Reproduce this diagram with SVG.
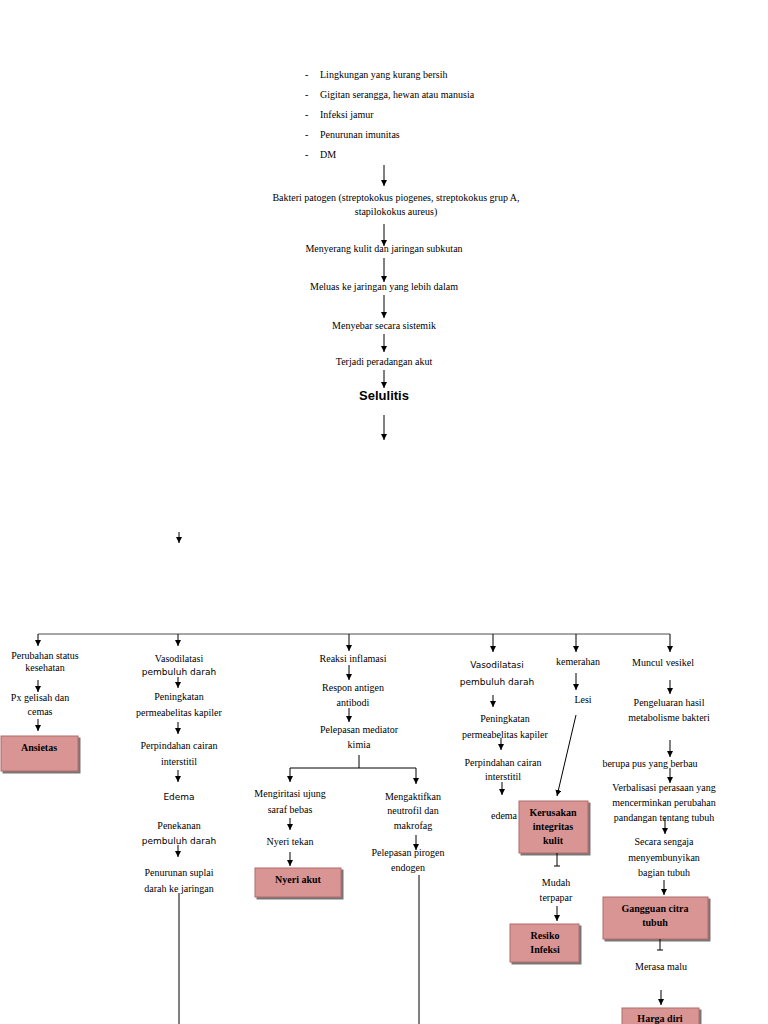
<svg xmlns="http://www.w3.org/2000/svg" width="768" height="1024" viewBox="0 0 768 1024">
<defs>
<marker id="a" markerWidth="7" markerHeight="6" refX="6" refY="3" orient="auto" markerUnits="userSpaceOnUse"><path d="M0,0 L6,3 L0,6 Z" fill="#000"/></marker>
<filter id="sh"><feDropShadow dx="2" dy="2" stdDeviation="0.6" flood-color="#555" flood-opacity="0.8"/></filter>
</defs>
<style>
text{font-family:"Liberation Serif",serif;font-size:10px;fill:#000;text-anchor:middle}
.s{font-family:"DejaVu Sans","Liberation Sans",sans-serif;font-size:9px}
.l{text-anchor:start}
.b{font-weight:bold}
.t{font-family:"Liberation Sans",sans-serif;font-size:13px;font-weight:bold}
.ar{stroke:#000;stroke-width:1;fill:none;marker-end:url(#a)}
.ln{stroke:#000;stroke-width:1;fill:none}
.g{stroke:#888;stroke-width:1.5;fill:none}
.box{fill:#d99594;stroke:#b06b6a;stroke-width:1;filter:url(#sh)}
</style>
<rect width="768" height="1024" fill="#fff"/>
<g id="causes">
<text class="l" x="305" y="78">-</text><text class="l" x="320" y="78">Lingkungan yang kurang bersih</text>
<text class="l" x="305" y="98">-</text><text class="l" x="320" y="98">Gigitan serangga, hewan atau manusia</text>
<text class="l" x="305" y="118">-</text><text class="l" x="320" y="118">Infeksi jamur</text>
<text class="l" x="305" y="138">-</text><text class="l" x="320" y="138">Penurunan imunitas</text>
<text class="l" x="305" y="158">-</text><text class="l" x="320" y="158">DM</text>
</g>
<g id="chain">
<text x="396" y="201">Bakteri patogen (streptokokus piogenes, streptokokus grup A,</text>
<text x="396" y="215">stapilokokus aureus)</text>
<text x="384" y="252">Menyerang kulit dan jaringan subkutan</text>
<text x="384" y="290">Meluas ke jaringan yang lebih dalam</text>
<text x="384" y="329">Menyebar secara sistemik</text>
<text x="384" y="365">Terjadi peradangan akut</text>
<text class="t" x="384" y="400">Selulitis</text>
</g>
<g id="col1">
<text x="45" y="659">Perubahan status</text><text x="45" y="671">kesehatan</text>
<text x="40" y="701">Px gelisah dan</text><text x="40" y="715">cemas</text>
<rect class="box" x="1" y="736" width="77" height="35"/><text class="b" x="39" y="751">Ansietas</text>
</g>
<g id="col2">
<text x="179" y="662">Vasodilatasi</text><text class="s" x="179" y="675">pembuluh darah</text>
<text x="179" y="700">Peningkatan</text><text x="179" y="716">permeabelitas kapiler</text>
<text x="179" y="749">Perpindahan cairan</text><text x="179" y="765">interstitil</text>
<text class="s" x="179" y="800">Edema</text>
<text x="179" y="829">Penekanan</text><text class="s" x="179" y="844">pembuluh darah</text>
<text x="179" y="876">Penurunan suplai</text><text x="179" y="892">darah ke jaringan</text>
</g>
<g id="col3">
<text x="353" y="662">Reaksi inflamasi</text>
<text x="353" y="691">Respon antigen</text><text x="353" y="706">antibodi</text>
<text x="359" y="733">Pelepasan mediator</text><text x="359" y="748">kimia</text>
<text x="290" y="797">Mengiritasi ujung</text><text x="290" y="813">saraf bebas</text>
<text x="290" y="845">Nyeri tekan</text>
<rect class="box" x="255" y="868" width="86" height="29"/><text class="b" x="298" y="883">Nyeri akut</text>
<text x="413" y="800">Mengaktifkan</text><text x="413" y="814">neutrofil dan</text><text x="413" y="829">makrofag</text>
<text x="408" y="856">Pelepasan pirogen</text><text x="408" y="871">endogen</text>
</g>
<g id="col4">
<text class="s" x="497" y="668">Vasodilatasi</text><text class="s" x="497" y="685">pembuluh darah</text>
<text x="505" y="722">Peningkatan</text><text x="505" y="738">permeabelitas kapiler</text>
<text x="503" y="766">Perpindahan cairan</text><text x="503" y="780">interstitil</text>
<text x="504" y="819">edema</text>
</g>
<g id="col5">
<text x="578" y="665">kemerahan</text>
<text x="583" y="703">Lesi</text>
<rect class="box" x="519" y="801" width="69" height="52"/>
<text class="b" x="553" y="816">Kerusakan</text><text class="b" x="553" y="830">integritas</text><text class="b" x="553" y="844">kulit</text>
<text x="556" y="886">Mudah</text><text x="556" y="901">terpapar</text>
<rect class="box" x="510" y="924" width="69" height="38"/>
<text class="b" x="545" y="939">Resiko</text><text class="b" x="545" y="953">Infeksi</text>
</g>
<g id="col6">
<text x="663" y="666">Muncul vesikel</text>
<text x="669" y="706">Pengeluaran hasil</text><text x="669" y="721">metabolisme bakteri</text>
<text x="650" y="767">berupa pus  yang berbau</text>
<text x="664" y="791">Verbalisasi perasaan yang</text><text x="664" y="806">mencerminkan  perubahan</text><text x="664" y="821">pandangan tentang tubuh</text>
<text x="664" y="845">Secara sengaja</text><text x="664" y="861">menyembunyikan</text><text x="664" y="876">bagian tubuh</text>
<rect class="box" x="603" y="897" width="105" height="42"/>
<text class="b" x="655" y="912">Gangguan citra</text><text class="b" x="655" y="926">tubuh</text>
<text x="661" y="970">Merasa malu</text>
<rect class="box" x="622" y="1008" width="77" height="24"/><text class="b" x="660" y="1022">Harga diri</text>
</g>
<g id="connectors">
<line class="ar" x1="384" y1="165" x2="384" y2="186"/>
<line class="ar" x1="384" y1="224" x2="384" y2="246"/>
<line class="ar" x1="384" y1="258" x2="384" y2="282"/>
<line class="ar" x1="384" y1="295" x2="384" y2="318"/>
<line class="ar" x1="384" y1="334" x2="384" y2="352"/>
<line class="ar" x1="384" y1="370" x2="384" y2="388"/>
<line class="ar" x1="384" y1="415" x2="384" y2="440"/>
<line class="ar" x1="179" y1="532" x2="179" y2="543"/>
<line class="g" x1="38" y1="634" x2="670" y2="634"/>
<line class="ar" x1="38" y1="634" x2="38" y2="646"/>
<line class="ar" x1="178" y1="634" x2="178" y2="646"/>
<line class="ar" x1="349" y1="634" x2="349" y2="651"/>
<line class="ar" x1="493" y1="634" x2="493" y2="652"/>
<line class="ar" x1="576" y1="634" x2="576" y2="652"/>
<line class="ar" x1="670" y1="634" x2="670" y2="652"/>
<line class="ar" x1="38" y1="680" x2="38" y2="692"/>
<line class="ar" x1="38" y1="719" x2="38" y2="731"/>
<line class="ar" x1="178" y1="677" x2="178" y2="688"/>
<line class="ar" x1="178" y1="722" x2="178" y2="734"/>
<line class="ar" x1="178" y1="770" x2="178" y2="782"/>
<line class="ar" x1="178" y1="845" x2="178" y2="857"/>
<line class="ln" x1="179" y1="893" x2="179" y2="1024"/>
<line class="ar" x1="349" y1="665" x2="349" y2="680"/>
<line class="ar" x1="349" y1="708" x2="349" y2="722"/>
<line class="ln" x1="359" y1="755" x2="359" y2="768"/>
<line class="ln" x1="290" y1="768" x2="416" y2="768"/>
<line class="ar" x1="290" y1="768" x2="290" y2="782"/>
<line class="ar" x1="416" y1="768" x2="416" y2="784"/>
<line class="ar" x1="290" y1="818" x2="290" y2="830"/>
<line class="ar" x1="290" y1="852" x2="290" y2="866"/>
<line class="ar" x1="416" y1="835" x2="416" y2="850"/>
<line class="ln" x1="419" y1="875" x2="419" y2="1024"/>
<line class="ar" x1="493" y1="695" x2="493" y2="707"/>
<line class="ar" x1="501" y1="738" x2="501" y2="750"/>
<line class="ar" x1="502" y1="782" x2="502" y2="795"/>
<line class="ar" x1="576" y1="673" x2="576" y2="690"/>
<line class="ar" x1="576" y1="715" x2="557" y2="796"/>
<line class="ln" x1="557" y1="853" x2="557" y2="866"/><line class="ln" x1="554" y1="866" x2="560" y2="866"/>
<line class="ar" x1="557" y1="906" x2="557" y2="921"/>
<line class="ar" x1="670" y1="680" x2="670" y2="694"/>
<line class="ar" x1="670" y1="740" x2="670" y2="757"/>
<line class="ar" x1="670" y1="768" x2="670" y2="783"/>
<line class="ar" x1="665" y1="818" x2="665" y2="834"/>
<line class="ar" x1="664" y1="880" x2="664" y2="895"/>
<line class="ln" x1="660" y1="939" x2="660" y2="950"/><line class="ln" x1="657" y1="950" x2="663" y2="950"/>
<line class="ar" x1="661" y1="990" x2="661" y2="1005"/>
</g>
</svg>
